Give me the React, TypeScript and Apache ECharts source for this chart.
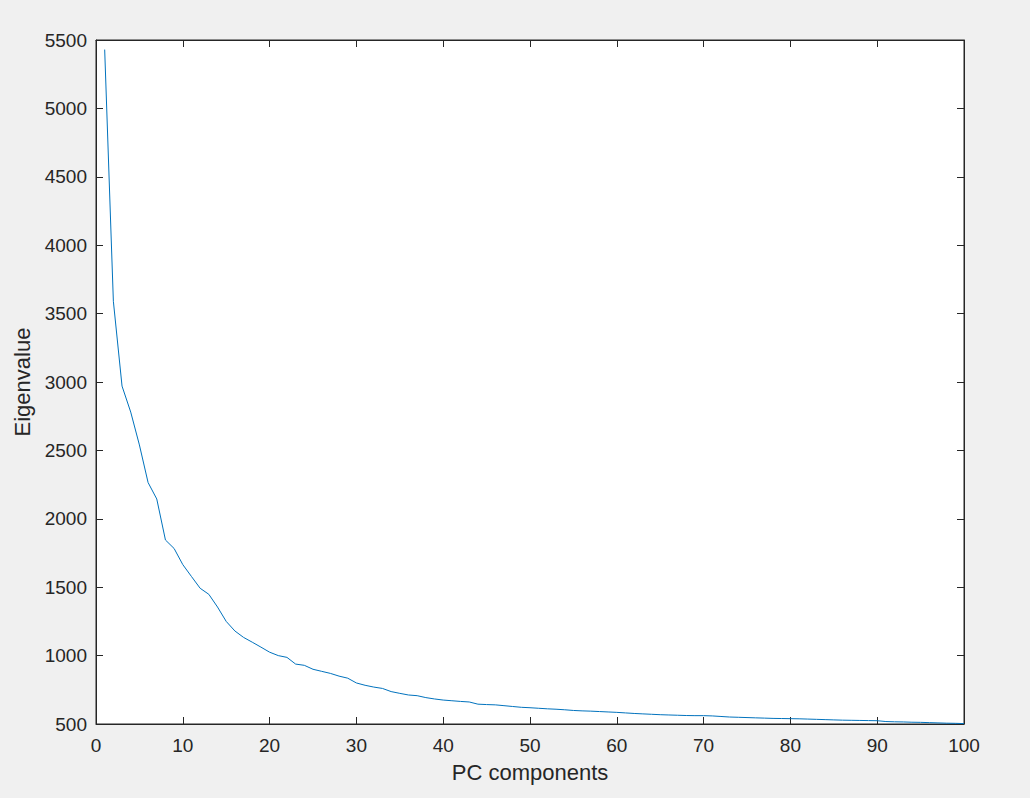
import React, { useEffect, useRef } from "react";
import * as echarts from "echarts";

const components: number[] = Array.from({ length: 100 }, (_, i) => i + 1);
const eigenvalues: number[] = [
  5430, 3590, 2970, 2780, 2540, 2265, 2145, 1845, 1783, 1665,
  1578, 1492, 1448, 1355, 1250, 1180, 1133, 1098, 1062, 1025,
  1000, 987, 938, 929, 900, 885, 870, 850, 835, 800,
  783, 770, 760, 737, 724, 712, 707, 693, 683, 675,
  670, 665, 661, 645, 642, 640, 634, 628, 622, 619,
  615, 611, 608, 604, 599, 596, 594, 591, 588, 585,
  581, 577, 574, 571, 568, 566, 564, 562, 561, 561,
  559, 555, 551, 549, 547, 545, 543, 541, 540, 539,
  538, 536, 534, 532, 530, 528, 527, 526, 525, 524,
  518, 516, 515, 513, 512, 510, 508, 506, 505, 503,
];
const xTitle = "PC components";
const yTitle = "Eigenvalue";

const FONT = "'Liberation Sans', Arial, Helvetica, sans-serif";
const INK = "#262626";

export default function App() {
  const ref = useRef<HTMLDivElement>(null);
  useEffect(() => {
    document.body.style.margin = "0";
    const chart = echarts.init(ref.current!, undefined, { renderer: "svg" });
    const axisCommon = {
      axisLine: { show: true, onZero: false, lineStyle: { color: INK, width: 1 } },
      axisTick: { show: true, inside: true, length: 7, lineStyle: { color: INK, width: 1 } },
      splitLine: { show: false },
    };
    const plain = (v: number) => String(v);
    chart.setOption({
      animation: false,
      backgroundColor: "#f0f0f0",
      grid: {
        left: 96,
        right: 66,
        top: 40,
        bottom: 74,
        show: true,
        backgroundColor: "#ffffff",
        borderColor: INK,
        borderWidth: 1,
      },
      xAxis: [
        {
          type: "value",
          min: 0,
          max: 100,
          interval: 10,
          position: "bottom",
          ...axisCommon,
          axisLabel: { color: INK, fontSize: 19, fontFamily: FONT, margin: 12, formatter: plain },
          name: xTitle,
          nameLocation: "middle",
          nameGap: 37,
          nameTextStyle: { color: INK, fontSize: 22, fontFamily: FONT },
        },
        {
          type: "value",
          min: 0,
          max: 100,
          interval: 10,
          position: "top",
          ...axisCommon,
          axisLabel: { show: false },
        },
      ],
      yAxis: [
        {
          type: "value",
          min: 500,
          max: 5500,
          interval: 500,
          position: "left",
          ...axisCommon,
          axisLabel: { color: INK, fontSize: 19, fontFamily: FONT, margin: 9, formatter: plain },
          name: yTitle,
          nameLocation: "middle",
          nameGap: 58,
          nameTextStyle: { color: INK, fontSize: 22, fontFamily: FONT },
        },
        {
          type: "value",
          min: 500,
          max: 5500,
          interval: 500,
          position: "right",
          ...axisCommon,
          axisLabel: { show: false },
        },
      ],
      series: [
        {
          type: "line",
          data: components.map((c, i) => [c, eigenvalues[i]]),
          showSymbol: false,
          symbol: "none",
          lineStyle: { color: "#0072BD", width: 1 },
          xAxisIndex: 0,
          yAxisIndex: 0,
        },
      ],
    });
    return () => chart.dispose();
  }, []);
  return (
    <div
      ref={ref}
      style={{ position: "absolute", left: 0, top: 0, width: 1030, height: 798 }}
    />
  );
}
